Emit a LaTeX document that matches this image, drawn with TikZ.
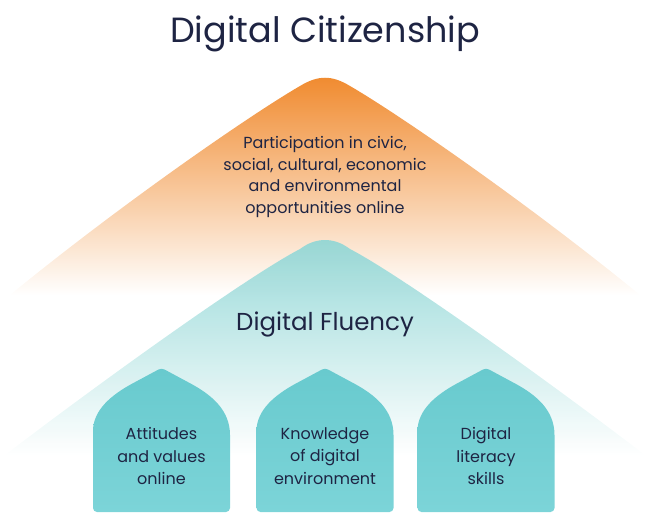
\documentclass[tikz,border=0pt]{standalone}
\usepackage{fontspec}
\setmainfont{Poppins}
\usepackage{tikz}
\usetikzlibrary{positioning}
\definecolor{navy}{HTML}{1E2443}
\definecolor{sunset}{HTML}{F08A2E}
\definecolor{peach}{HTML}{F7B684}
\definecolor{lagoon}{HTML}{8CD5D4}
\definecolor{shallow}{HTML}{ACE2E4}
\definecolor{archteal}{HTML}{68CACE}
\definecolor{archlow}{HTML}{7CD4D8}
\tikzset{
  caption/.style={text=navy, align=center, inner sep=0pt},
  archbox/.style={top color=archteal, bottom color=archlow, draw=none}
}

\begin{document}
\begin{tikzpicture}[x=1pt,y=-1pt]
  \useasboundingbox (0,0) rectangle (652,524);
  % citizenship tent
  \shade[top color=sunset, middle color=peach, bottom color=white]
    (10,295) .. controls (120,205) and (250,115) .. (300,86)
    .. controls (318,75) and (332,75) .. (350,86)
    .. controls (400,115) and (530,205) .. (640,295) -- cycle;
  % fluency tent
  \shade[top color=lagoon, middle color=shallow, bottom color=white, opacity=0.9]
    (5,455) .. controls (110,375) and (250,275) .. (300,249)
    .. controls (316,237) and (334,237) .. (350,249)
    .. controls (400,275) and (540,375) .. (645,455) -- cycle;
  % pillars
  \foreach \cx in {161.5,325,486}
    \shade[archbox] (\cx-68.5,435) .. controls (\cx-68.5,410) and (\cx-50,395) .. (\cx-30,384)
      -- (\cx-3,369.5) .. controls (\cx-1,368.5) and (\cx+1,368.5) .. (\cx+3,369.5)
      -- (\cx+30,384) .. controls (\cx+50,395) and (\cx+68.5,410) .. (\cx+68.5,435)
      [rounded corners=4pt] -- (\cx+68.5,512) -- (\cx-68.5,512) -- cycle;

  \node (title) [caption, font=\fontsize{35}{40}\selectfont] at (325,34) {Digital Citizenship};
  \node (civic) [caption, font=\fontsize{16}{21.7}\selectfont] at (325,177)
    {Participation in civic,\\social, cultural, economic\\and environmental\\opportunities online};
  \node (fluency) [caption, font=\fontsize{24.5}{28}\selectfont] at (325,324) {Digital Fluency};
  \node (values) [caption, font=\fontsize{16}{22.5}\selectfont] at (161.5,456) {Attitudes\\and values\\online};
  \node (knowledge) [caption, font=\fontsize{16}{22.5}\selectfont] at (325,456) {Knowledge\\of digital\\environment};
  \node (literacy) [caption, font=\fontsize{16}{22.5}\selectfont] at (486,456) {Digital\\literacy\\skills};
\end{tikzpicture}
\end{document}
